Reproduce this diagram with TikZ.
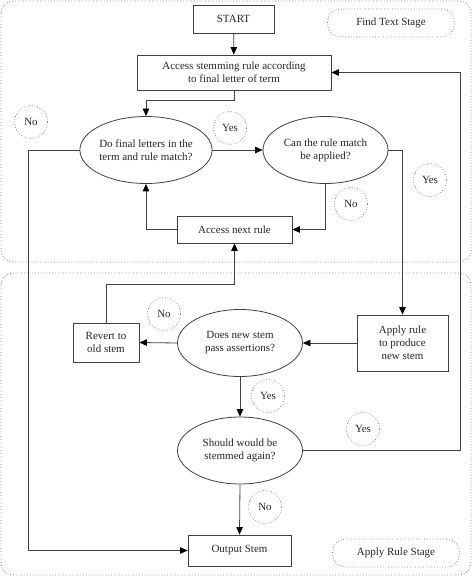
\documentclass[tikz,border=0pt]{standalone}
\usepackage{fontspec}
\setmainfont{Liberation Serif}
\usetikzlibrary{shapes.geometric,arrows.meta}
\begin{document}
\begin{tikzpicture}[x=1pt,y=-1pt,
    every node/.style={font=\fontsize{11}{13}\selectfont, align=center, text=black!85},
    box/.style={draw=black!75, line width=0.8pt, rectangle, inner sep=2pt},
    decision/.style={draw=black!75, line width=0.8pt, ellipse, minimum width=125pt, minimum height=67pt, inner sep=0pt},
    tag/.style={draw=black!55, dotted, line width=0.7pt, circle, minimum size=33pt, inner sep=0pt},
    stagetag/.style={draw=black!55, dotted, line width=0.7pt, rounded corners=13pt, minimum width=127pt, minimum height=28pt},
    stage/.style={draw=black!50, dotted, line width=0.8pt, rounded corners=12pt},
    arr/.style={draw=black!75, line width=0.8pt, -{Triangle[length=7.5pt,width=6.5pt,color=black]}}]
  \useasboundingbox (0,0) rectangle (474,577);
  %% the two stages
  \draw[stage] (1,1) rectangle (471,262);
  \draw[stage] (1,273) rectangle (471,575);
  %% find text stage
  \node[box, minimum width=81pt, minimum height=28pt] (start) at (233.5,19) {START};
  \node[stagetag] (findstage) at (391,23) {Find Text Stage};
  \node[box, minimum width=194pt, minimum height=35pt] (access) at (234,72.5) {Access stemming rule according\\to final letter of term};
  \node[decision] (match) at (146,150) {Do final letters in the\\term and rule match?};
  \node[decision] (canapply) at (325.5,150) {Can the rule match\\be applied?};
  \node[box, minimum width=115pt, minimum height=27pt] (next) at (234.5,229.5) {Access next rule};
  %%
  \node[tag] (no1) at (31,122) {No};
  \node[tag] (yes1) at (230,128) {Yes};
  \node[tag] (yes2) at (430,180) {Yes};
  \node[tag] (no2) at (351,204) {No};
  %% apply rule stage
  \node[box, minimum width=66pt, minimum height=39pt] (revert) at (106,342.5) {Revert to\\old stem};
  \node[decision] (assert) at (240,343) {Does new stem\\pass assertions?};
  \node[box, minimum width=91pt, minimum height=56pt] (applyrule) at (402.5,343) {Apply rule\\to produce\\new stem};
  \node[decision] (again) at (240,450.5) {Should would be\\stemmed again?};
  \node[box, minimum width=103pt, minimum height=31pt] (output) at (239.5,550.5) {Output Stem};
  \node[stagetag] (applystage) at (396,553) {Apply Rule Stage};
  %%
  \node[tag] (no3) at (164,314) {No};
  \node[tag] (yes3) at (268,396) {Yes};
  \node[tag] (yes4) at (363,429) {Yes};
  \node[tag] (no4) at (265,507) {No};
  %% connectors
  \coordinate (lft) at (28,550.5);
  \coordinate (rgt) at (460,450.5);
  \draw[arr] (start) -- (access);
  \draw[arr] (access.south) -- ++(0,10) -| (match.north);
  \draw[arr] (match.east) -- (canapply.west);
  \draw[arr] (canapply.south) |- (next.east);
  \draw[arr] (next.west) -| (match.south);
  \draw[arr] (match.west) -| (lft) -- (output.west);
  \draw[arr] (canapply.east) -| (applyrule.north);
  \draw[arr] (applyrule.west) -- (assert.east);
  \draw[arr] (assert.west) -- (revert.east);
  \draw[arr] (revert.north) -- ++(0,-38) -| (next.south);
  \draw[arr] (assert.south) -- (again.north);
  \draw[arr] (again.east) -- (rgt) |- (access.east);
  \draw[arr] (again.south) -- (output.north);
\end{tikzpicture}
\end{document}
